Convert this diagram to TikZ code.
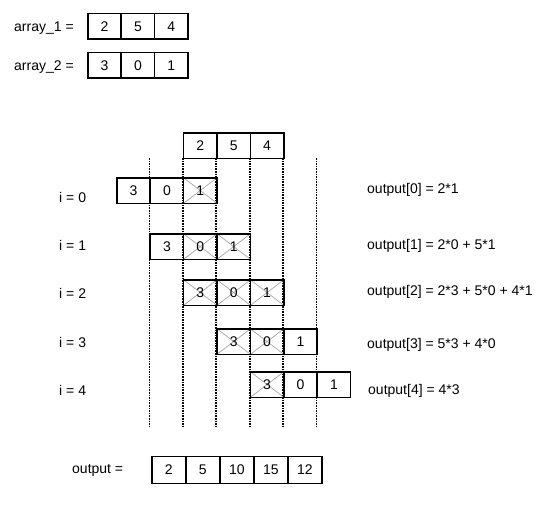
\documentclass[tikz,border=0pt]{standalone}
\usepackage{fontspec}
\setmainfont{Liberation Sans}
\begin{document}
\begin{tikzpicture}[x=1pt,y=-1pt,
  txt/.style={font=\fontsize{14}{16}\selectfont},
  cell/.style={txt, draw=black, line width=1.6pt, minimum width=33.4pt, minimum height=25.5pt, inner sep=0pt, anchor=north west, text height=10pt, text depth=0pt},
  wcell/.style={cell, minimum width=34pt, minimum height=27pt},
  crossed/.style={path picture={\draw[gray!70, line width=0.7pt]
      (path picture bounding box.north west) -- (path picture bounding box.south east)
      (path picture bounding box.north east) -- (path picture bounding box.south west);}},
  lbl/.style={txt, anchor=west, inner sep=0pt, text height=10pt, text depth=0pt},
  grid/.style={line width=1.8pt, dash pattern=on 1.6pt off 1pt}]
\useasboundingbox (0,0) rectangle (551,512);

% top arrays
\node[lbl] (a1l) at (14,26.5) {array\_1 =};
\node[cell] (a1a) at (87,12.5) {2};
\node[cell] (a1b) at (120.4,12.5) {5};
\node[cell] (a1c) at (153.8,12.5) {4};
\node[lbl] (a2l) at (14,65.5) {array\_2 =};
\node[cell] (a2a) at (87,51.5) {3};
\node[cell] (a2b) at (120.4,51.5) {0};
\node[cell] (a2c) at (153.8,51.5) {1};

% dotted grid
\foreach \k in {1,...,6} {
  \coordinate (gt\k) at ({116+33.4*\k},158);
  \coordinate (gb\k) at ({116+33.4*\k},428);
  \draw[grid] (gt\k) -- (gb\k);
}

% row arrays
\def\cx#1{{116+33.4*#1}}
\node[cell] (t2) at (\cx{2},132) {2};
\node[cell] (t3) at (\cx{3},132) {5};
\node[cell] (t4) at (\cx{4},132) {4};

\node[lbl] (l0) at (59,197) {i = 0};
\node[cell] (r00) at (\cx{0},177) {3};
\node[cell] (r01) at (\cx{1},177) {0};
\node[cell,crossed] (r02) at (\cx{2},177) {1};

\node[lbl] (l1) at (59,245) {i = 1};
\node[cell] (r11) at (\cx{1},233) {3};
\node[cell,crossed] (r12) at (\cx{2},233) {0};
\node[cell,crossed] (r13) at (\cx{3},233) {1};

\node[lbl] (l2) at (59,293) {i = 2};
\node[cell,crossed] (r22) at (\cx{2},279) {3};
\node[cell,crossed] (r23) at (\cx{3},279) {0};
\node[cell,crossed] (r24) at (\cx{4},279) {1};

\node[lbl] (l3) at (59,342) {i = 3};
\node[cell,crossed] (r33) at (\cx{3},328) {3};
\node[cell,crossed] (r34) at (\cx{4},328) {0};
\node[cell] (r35) at (\cx{5},328) {1};

\node[lbl] (l4) at (59,390) {i = 4};
\node[cell,crossed] (r44) at (\cx{4},371) {3};
\node[cell] (r45) at (\cx{5},371) {0};
\node[cell] (r46) at (\cx{6},371) {1};

% formulas
\node[lbl] (f0) at (367,188) {output[0] = 2*1};
\node[lbl] (f1) at (367,244) {output[1] = 2*0 + 5*1};
\node[lbl] (f2) at (367,290) {output[2] = 2*3 + 5*0 + 4*1};
\node[lbl] (f3) at (367,343) {output[3] = 5*3 + 4*0};
\node[lbl] (f4) at (368,389) {output[4] = 4*3};

% output
\node[lbl] (ol) at (72,468) {output =};
\node[wcell] (o0) at (151,455.5) {2};
\node[wcell] (o1) at (185,455.5) {5};
\node[wcell] (o2) at (219,455.5) {10};
\node[wcell] (o3) at (253,455.5) {15};
\node[wcell] (o4) at (287,455.5) {12};
\end{tikzpicture}
\end{document}
